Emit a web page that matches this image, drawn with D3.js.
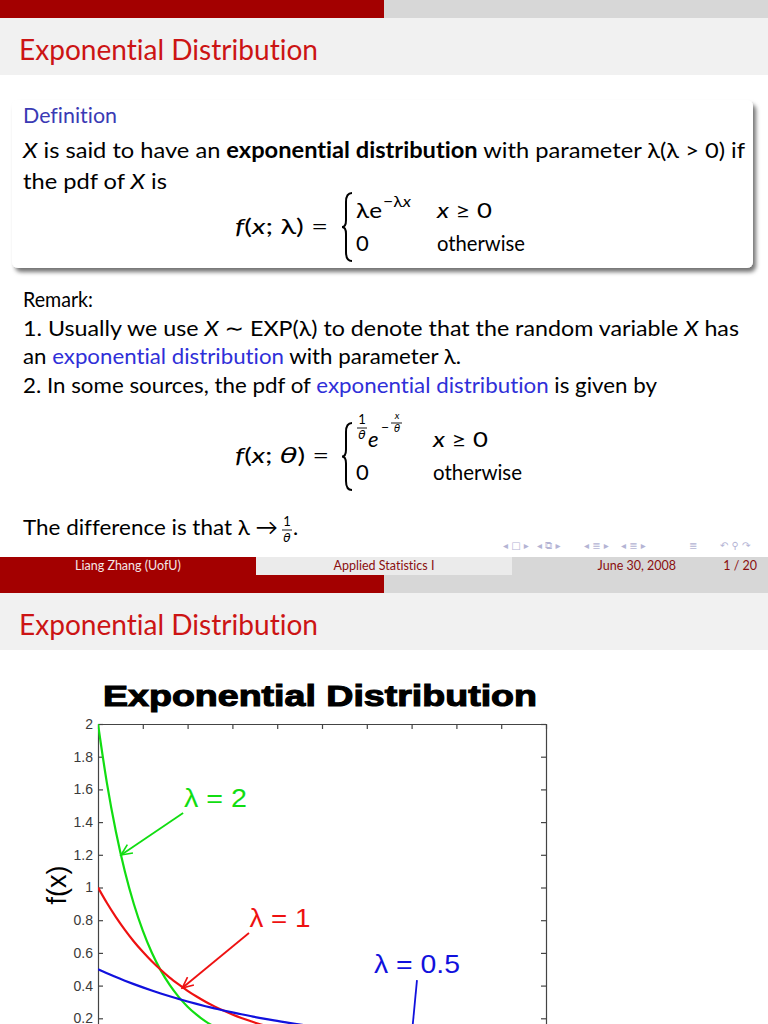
<!DOCTYPE html>
<html>
<head>
<meta charset="utf-8">
<script src="https://cdn.jsdelivr.net/npm/d3@7/dist/d3.min.js"></script>
<style>
  html, body { margin: 0; padding: 0; background: #fff; }
  svg { display: block; }
  .body { font-family: Lato, "DejaVu Sans", sans-serif; fill: #000; font-variant-ligatures: none; }
  .plot { font-family: "Liberation Sans", Arial, sans-serif; }
</style>
</head>
<body>
<div id="chart"></div>
<script>
// Values (x in steps of 0.1)
var xVals = [0, 0.1, 0.2, 0.3, 0.4, 0.5, 0.6, 0.7, 0.8, 0.9, 1.0, 1.1, 1.2, 1.3, 1.4, 1.5, 1.6, 1.7, 1.8, 1.9, 2.0, 2.1, 2.2, 2.3, 2.4, 2.5];
var lambda2 = [2.000, 1.637, 1.341, 1.098, 0.899, 0.736, 0.602, 0.493, 0.404, 0.331, 0.271, 0.222, 0.181, 0.149, 0.122, 0.100, 0.082, 0.067, 0.055, 0.045, 0.037, 0.030, 0.025, 0.020, 0.016, 0.014];
var lambda1 = [1.000, 0.905, 0.819, 0.741, 0.670, 0.607, 0.549, 0.497, 0.449, 0.407, 0.368, 0.333, 0.301, 0.273, 0.247, 0.223, 0.202, 0.183, 0.165, 0.150, 0.135, 0.122, 0.111, 0.100, 0.091, 0.082];
var lambda05 = [0.500, 0.476, 0.452, 0.430, 0.409, 0.389, 0.370, 0.352, 0.335, 0.319, 0.303, 0.288, 0.274, 0.261, 0.248, 0.236, 0.225, 0.214, 0.203, 0.193, 0.184, 0.175, 0.166, 0.158, 0.151, 0.143];
var seriesNames = ['λ = 2', 'λ = 1', 'λ = 0.5'];
var yTicks = [0, 0.2, 0.4, 0.6, 0.8, 1, 1.2, 1.4, 1.6, 1.8, 2];
var yTickLabels = ['0', '0.2', '0.4', '0.6', '0.8', '1', '1.2', '1.4', '1.6', '1.8', '2'];
var xTicks = [0, 0.5, 1, 1.5, 2, 2.5, 3, 3.5, 4, 4.5, 5];
// annotation label and arrow anchors, in data units
var labelAt = [[0.96, 1.49], [1.69, 0.76], [3.08, 0.48]];
var arrowFrom = [[0.95, 1.456], [1.685, 0.722], [3.56, 0.434]];
var arrowTo = [[0.257, 1.199], [0.94, 0.385], [3.5, 0.087]];

var W = 768, H = 1024;
var IT = 'font-style:italic', BF = 'font-weight:bold', BL = 'fill:#2f2fd8';
var TH = 'font-style:italic;font-family:"DejaVu Sans",sans-serif';
var RED = '#a30000', TITLE = '#cc1414';

var svg = d3.select('#chart').append('svg')
  .attr('width', W)
  .attr('height', H);

var defs = svg.append('defs');
var shadow = defs.append('filter').attr('id', 'shadow')
  .attr('x', '-5%').attr('y', '-10%').attr('width', '110%').attr('height', '125%');
shadow.append('feDropShadow')
  .attr('dx', 3).attr('dy', 4).attr('stdDeviation', 2.2)
  .attr('flood-color', '#000').attr('flood-opacity', 0.55);

// writes a line made of styled pieces
function rich(x, y, parts, size, len, anchor) {
  var t = svg.append('text').attr('class', 'body')
    .attr('x', x).attr('y', y)
    .style('font-size', size + 'px')
    .attr('text-anchor', anchor || 'start');
  if (len) t.attr('textLength', len).attr('lengthAdjust', 'spacingAndGlyphs');
  parts.forEach(function (p) {
    var s = t.append('tspan').text(p[0]);
    if (p[1]) s.attr('style', p[1]);
  });
  return t;
}

// curly brace for the piecewise formulas
function brace(x, y0, y1) {
  var m = (y0 + y1) / 2;
  svg.append('path')
    .attr('d', 'M' + (x + 10) + ',' + y0 + ' Q' + (x + 4) + ',' + y0 + ' ' + (x + 4) + ',' + (y0 + 9) +
      ' L' + (x + 4) + ',' + (m - 7) + ' Q' + (x + 4) + ',' + m + ' ' + x + ',' + m +
      ' Q' + (x + 4) + ',' + m + ' ' + (x + 4) + ',' + (m + 7) +
      ' L' + (x + 4) + ',' + (y1 - 9) + ' Q' + (x + 4) + ',' + y1 + ' ' + (x + 10) + ',' + y1)
    .style('fill', 'none').style('stroke', '#000').style('stroke-width', 2);
}

function fracBar(x, y, w) {
  svg.append('line').attr('x1', x).attr('x2', x + w).attr('y1', y).attr('y2', y)
    .style('stroke', '#000').style('stroke-width', 0.9);
}

// slide header: top bar + title band
function header(top) {
  svg.append('rect').attr('x', 0).attr('y', top).attr('width', 384).attr('height', 18).style('fill', RED);
  svg.append('rect').attr('x', 384).attr('y', top).attr('width', 384).attr('height', 18).style('fill', '#d7d7d7');
  svg.append('rect').attr('x', 0).attr('y', top + 18).attr('width', W).attr('height', 57).style('fill', '#f1f1f1');
  rich(19, top + 60, [['Exponential Distribution', 'fill:' + TITLE]], 29, 299);
}


//=====================================================================//
// Slide 1

header(0);

// definition block with shadow
svg.append('rect').attr('x', 12).attr('y', 100).attr('width', 741).attr('height', 168)
  .attr('rx', 6).style('fill', '#fff').attr('filter', 'url(#shadow)');

rich(23, 123, [['Definition', 'fill:#3a3ab4']], 22, 94);
rich(23, 158, [['X', IT], [' is said to have an '], ['exponential distribution', BF],
  [' with parameter λ(λ > 0) if']], 22, 722);
rich(23, 189, [['the pdf of '], ['X', IT], [' is']], 22, 144);

rich(235, 234, [['f', IT], ['('], ['x', IT], ['; λ) =']], 22, 93);
brace(342, 193, 261);
rich(356, 218, [['λe']], 22, 26);
rich(383, 207, [['−λ'], ['x', IT]], 15, 28);
rich(437, 218, [['x', IT], [' ≥ 0']], 22, 55);
rich(356, 251, [['0']], 22);
rich(437, 251, [['otherwise']], 22, 88);

rich(23, 307, [['Remark:']], 22, 70);
rich(23, 336, [['1. Usually we use '], ['X', IT], [' ∼ EXP(λ) to denote that the random variable '],
  ['X', IT], [' has']], 22, 716);
rich(23, 364, [['an '], ['exponential distribution', BL], [' with parameter λ.']], 22, 438);
rich(23, 393, [['2. In some sources, the pdf of '], ['exponential distribution', BL],
  [' is given by']], 22, 634);

rich(235, 463, [['f', IT], ['('], ['x', IT], ['; '], ['θ', TH], [') =']], 22, 94);
brace(342, 423, 490);
rich(362, 424, [['1']], 13, null, 'middle');
fracBar(357, 428, 10);
rich(362, 439, [['θ', TH]], 12, null, 'middle');
rich(368, 447, [['e', IT]], 22);
rich(381, 432, [['−']], 14);
rich(397, 419, [['x', IT]], 10, null, 'middle');
fracBar(391, 423, 11);
rich(397, 432, [['θ', TH]], 10, null, 'middle');
rich(433, 447, [['x', IT], [' ≥ 0']], 22, 55);
rich(356, 480, [['0']], 22);
rich(433, 480, [['otherwise']], 22, 89);

rich(23, 535, [['The difference is that λ → ']], 22, 255);
rich(287, 526, [['1']], 13, null, 'middle');
fracBar(282, 530, 10);
rich(287, 542, [['θ', TH]], 12, null, 'middle');
rich(293, 535, [['.']], 22);

// navigation symbols
var nav = [['◂ □ ▸', 503], ['◂ ⧉ ▸', 537], ['◂ ≣ ▸', 584], ['◂ ≣ ▸', 621], ['≣', 689], ['↶ ⚲ ↷', 720]];
nav.forEach(function (n) {
  svg.append('text').attr('x', n[1]).attr('y', 549)
    .style('font-family', '"DejaVu Sans", sans-serif').style('font-size', '10px')
    .style('fill', '#b4b4d4').text(n[0]);
});

// footer
svg.append('rect').attr('x', 0).attr('y', 557).attr('width', 256).attr('height', 18).style('fill', RED);
svg.append('rect').attr('x', 256).attr('y', 557).attr('width', 256).attr('height', 18).style('fill', '#ebebeb');
svg.append('rect').attr('x', 512).attr('y', 557).attr('width', 256).attr('height', 18).style('fill', '#d7d7d7');
rich(128, 570, [['Liang Zhang  (UofU)', 'fill:#f4e6e6']], 12.5, null, 'middle');
rich(384, 570, [['Applied Statistics I', 'fill:#8a0f0f']], 12.5, null, 'middle');
rich(676, 570, [['June 30, 2008', 'fill:#8a0f0f']], 12.5, null, 'end');
rich(757, 570, [['1 / 20', 'fill:#8a0f0f']], 12.5, null, 'end');


//=====================================================================//
// Slide 2

header(575);

var m = { left: 98, right: 546, top: 724, bottom: 1051 };

var xScale = d3.scaleLinear().domain([0, 5]).range([m.left, m.right]);
var yScale = d3.scaleLinear().domain([0, 2]).range([m.bottom, m.top]);

var plot = svg.append('g').attr('class', 'plot');

// chart title
plot.append('text')
  .attr('x', (m.left + m.right) / 2 - 2).attr('y', 706)
  .attr('text-anchor', 'middle')
  .attr('textLength', 434).attr('lengthAdjust', 'spacingAndGlyphs')
  .style('font-size', '30px').style('font-weight', 'bold').style('fill', '#000')
  .style('stroke', '#000').style('stroke-width', 1.1)
  .text('Exponential Distribution');

// y label
plot.append('text')
  .attr('transform', 'translate(66,885) rotate(-90)')
  .attr('text-anchor', 'middle')
  .style('font-size', '27px').style('fill', '#000')
  .text('f(x)');

// axes, MATLAB style ticks pointing inward
var yAxis = d3.axisLeft(yScale)
  .tickValues(yTicks)
  .tickFormat(function (d, i) { return yTickLabels[i]; })
  .tickSizeInner(-5).tickSizeOuter(0).tickPadding(5);

var gy = plot.append('g').attr('transform', 'translate(' + m.left + ',0)').call(yAxis);
gy.selectAll('text').style('font-size', '14px').style('fill', '#3a3a3a').style('font-family', '"Liberation Sans", Arial, sans-serif');

plot.append('g').attr('transform', 'translate(' + m.right + ',0)')
  .call(d3.axisRight(yScale).tickValues(yTicks).tickFormat('').tickSizeInner(-5).tickSizeOuter(0));

plot.append('g').attr('transform', 'translate(0,' + m.top + ')')
  .call(d3.axisTop(xScale).tickValues(xTicks).tickFormat('').tickSizeInner(-5).tickSizeOuter(0));

plot.selectAll('.domain, .tick line').style('stroke', '#444').style('stroke-width', 1.2);

// curves
defs.append('clipPath').attr('id', 'clip').append('rect')
  .attr('x', m.left).attr('y', m.top)
  .attr('width', m.right - m.left).attr('height', m.bottom - m.top);

var colors = ['#11dd11', '#ee1111', '#1111dd'];
var series = [lambda2, lambda1, lambda05];

var line = d3.line()
  .x(function (d, i) { return xScale(xVals[i]); })
  .y(function (d) { return yScale(d); })
  .curve(d3.curveMonotoneX);

plot.append('g').attr('clip-path', 'url(#clip)')
  .selectAll('path')
  .data(series)
  .enter().append('path')
  .attr('d', line)
  .style('fill', 'none')
  .style('stroke', function (d, i) { return colors[i]; })
  .style('stroke-width', 2.2);

// arrow heads
colors.forEach(function (c, i) {
  defs.append('marker').attr('id', 'arrow' + i)
    .attr('viewBox', '-1 -6 14 12').attr('refX', 11).attr('refY', 0)
    .attr('markerWidth', 14).attr('markerHeight', 12)
    .attr('markerUnits', 'userSpaceOnUse').attr('orient', 'auto')
    .append('path').attr('d', 'M0,-5 L11,0 L0,5')
    .style('fill', 'none').style('stroke', c).style('stroke-width', 1.6);
});

var annot = plot.append('g');
seriesNames.forEach(function (name, i) {
  annot.append('line')
    .attr('x1', xScale(arrowFrom[i][0])).attr('y1', yScale(arrowFrom[i][1]))
    .attr('x2', xScale(arrowTo[i][0])).attr('y2', yScale(arrowTo[i][1]))
    .style('stroke', colors[i]).style('stroke-width', 1.8)
    .attr('marker-end', 'url(#arrow' + i + ')');
  annot.append('text')
    .attr('x', xScale(labelAt[i][0])).attr('y', yScale(labelAt[i][1]))
    .attr('textLength', [63, 61, 86][i]).attr('lengthAdjust', 'spacingAndGlyphs')
    .style('font-size', '25px').style('fill', colors[i])
    .text(name);
});
</script>
</body>
</html>
